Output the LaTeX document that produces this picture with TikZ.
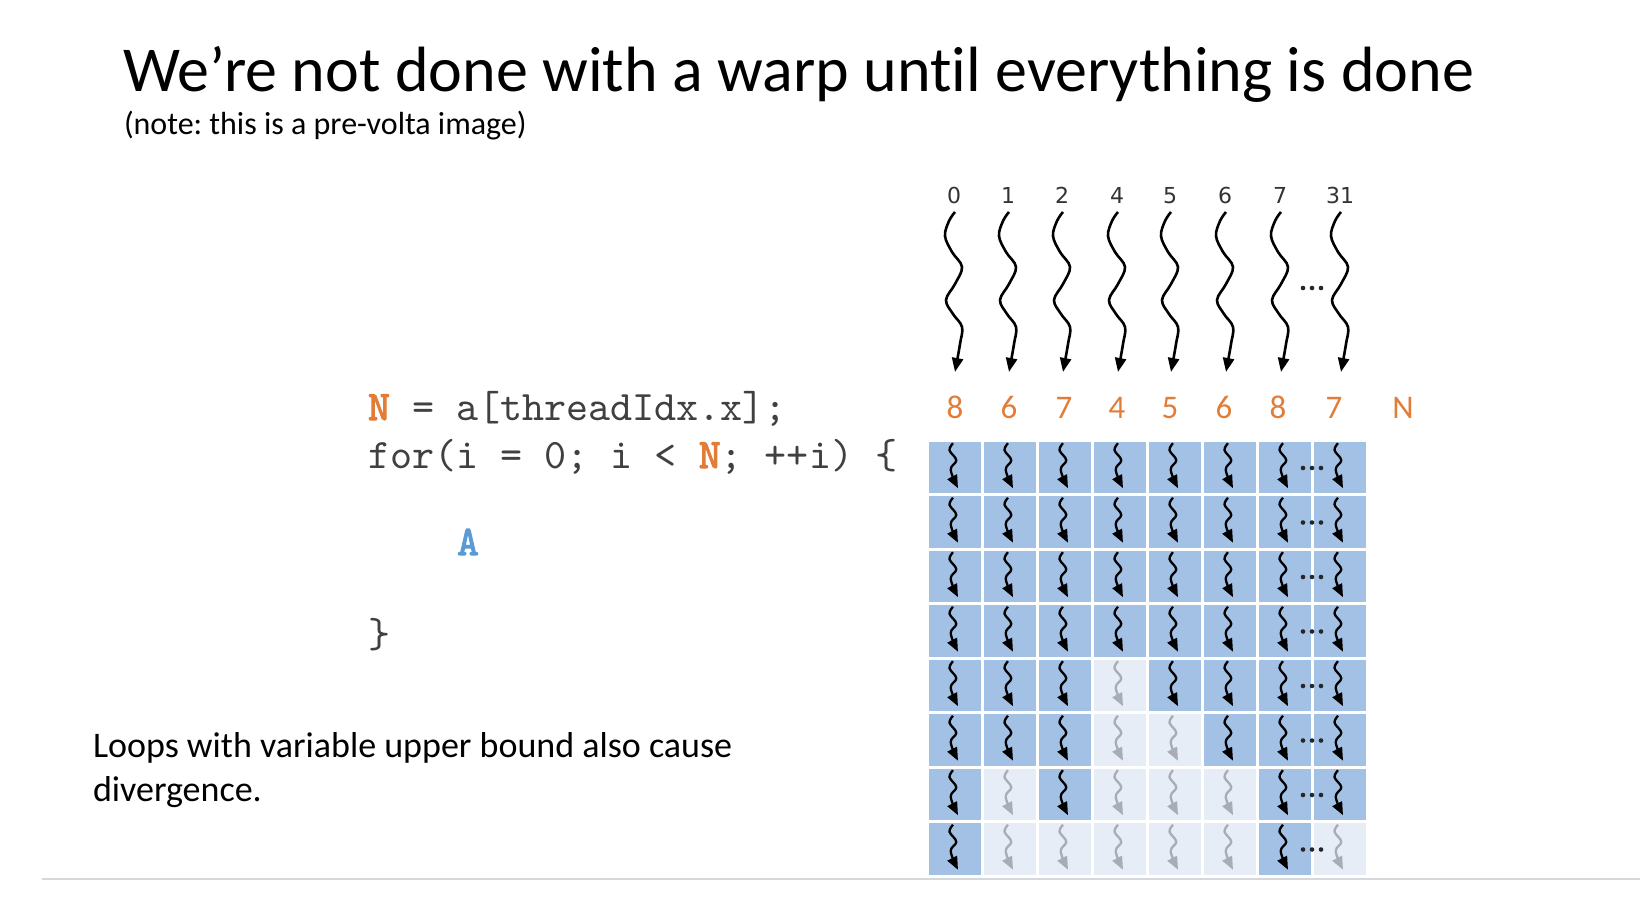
\documentclass[tikz,border=0pt]{standalone}
\usepackage{fontspec}
\setmainfont{Carlito}[Ligatures={NoCommon}]
\newfontfamily\labfont{DejaVu Sans}
\newfontfamily\codefont{lmmono10-regular.otf}
\newfontfamily\codebold[FakeBold=2.5]{lmmono10-regular.otf}
\usetikzlibrary{arrows.meta}
\frenchspacing
\definecolor{ornum}{RGB}{226,125,55}
\definecolor{codeblue}{RGB}{91,155,213}
\definecolor{codegray}{RGB}{64,64,64}
\definecolor{cellon}{RGB}{163,193,229}
\definecolor{celloff}{RGB}{230,237,247}
\definecolor{sqgray}{RGB}{168,172,180}
\definecolor{rulegray}{RGB}{212,215,220}
\tikzset{
  code/.style={font={\fontsize{42}{50}\selectfont\codefont}, text=codegray, anchor=base west},
  tlab/.style={font={\fontsize{22}{26}\selectfont\labfont}, text=black!80, anchor=base},
  nval/.style={font={\fontsize{33}{40}\selectfont}, text=ornum, anchor=base},
  bigsq/.style={draw=black, line width=2.6pt, line join=round, -{Triangle[length=14pt,width=11pt]}},
  sqon/.style={draw=black, line width=2.3pt, line join=round, -{Triangle[length=13pt,width=10.5pt]}},
  sqoff/.style={sqon, draw=sqgray},
  cellonst/.style={fill=cellon, minimum width=52pt, minimum height=51.5pt},
  celloffst/.style={fill=celloff, minimum width=52pt, minimum height=51.5pt},
  dotmark/.style={fill=black!85}
}
\begin{document}
\begin{tikzpicture}[x=1pt,y=-1pt, every node/.style={inner sep=0pt, outer sep=0pt}]
\fill[white] (0,0) rectangle (1640,902);
\useasboundingbox (0,0) rectangle (1640,902);

% title
\node[anchor=base west, font={\fontsize{64}{76}\selectfont}] (title) at (123,91) {We’re not done with a warp until everything is done};
\node[anchor=base west, font={\fontsize{32}{38}\selectfont}] (note) at (124,134) {(note: this is a pre-volta image)};

% code
\node[code] (line1) at (368,420) {{\codebold\color{ornum}N} = a[threadIdx.x];};
\node[code] (line2) at (368,468) {for(i = 0; i < {\codebold\color{ornum}N}; ++i) \{};
\node[code] (blockA) at (457,555) {{\codebold\color{codeblue}A}};
\node[code] (close) at (368,647) {\}};

% description
\node[anchor=base west, font={\fontsize{36}{44}\selectfont}] (desc1) at (93,757) {Loops with variable upper bound also cause};
\node[anchor=base west, font={\fontsize{36}{44}\selectfont}] (desc2) at (93,801) {divergence.};

% bottom rule
\coordinate (ruleL) at (42,879);
\coordinate (ruleR) at (1640,879);
\draw[rulegray, line width=1.5pt] (ruleL) -- (ruleR);

% thread labels and threads
\foreach \lab/\x [count=\i from 0] in {0/954,1/1008,2/1062,4/1117,5/1170,6/1225,7/1280,31/1340} {
  \node[tlab] (t\i) at (\x,203) {\lab};
  \coordinate (s\i) at (\x,212);
  \draw[bigsq, shift={(s\i)}] plot[smooth, tension=0.6] coordinates {(1,0) (-5,9) (-9,24) (-2,40) (8,55) (1,72) (-8,88) (-1,102) (8,115) (6,132) (1,160)};
}
\foreach \dx in {-9,0,9} \fill[dotmark] (1312+\dx,288) circle (2.3);

% N values
\foreach \v/\x [count=\i from 0] in {8/955,6/1009,7/1064,4/1117,5/1170,6/1224,8/1278,7/1334} {
  \node[nval] (n\i) at (\x,418) {\v};
}
\node[nval] (nlab) at (1403,418) {N};

% grid
\foreach \nv [count=\i from 0] in {8,6,7,4,5,6,8,7} {
  \foreach \j in {1,...,8} {
    \ifnum\j>\nv\relax \def\cs{celloffst}\def\ss{sqoff}\else\def\cs{cellonst}\def\ss{sqon}\fi
    \node[\cs] (c\i-\j) at ({954.5+55*\i},{412.75+54.5*\j}) {};
    \draw[\ss, shift={(c\i-\j.center)}] plot[smooth, tension=0.6] coordinates {(-1.5,-24) (-5,-17) (1.8,-7) (-3.8,2.5) (3.5,21)};
  }
}
\foreach \j in {1,...,8} {
  \foreach \dx in {-9,0,9} \fill[dotmark] ({1312+\dx},{413.5+54.5*\j}) circle (2.3);
}
\end{tikzpicture}
\end{document}
